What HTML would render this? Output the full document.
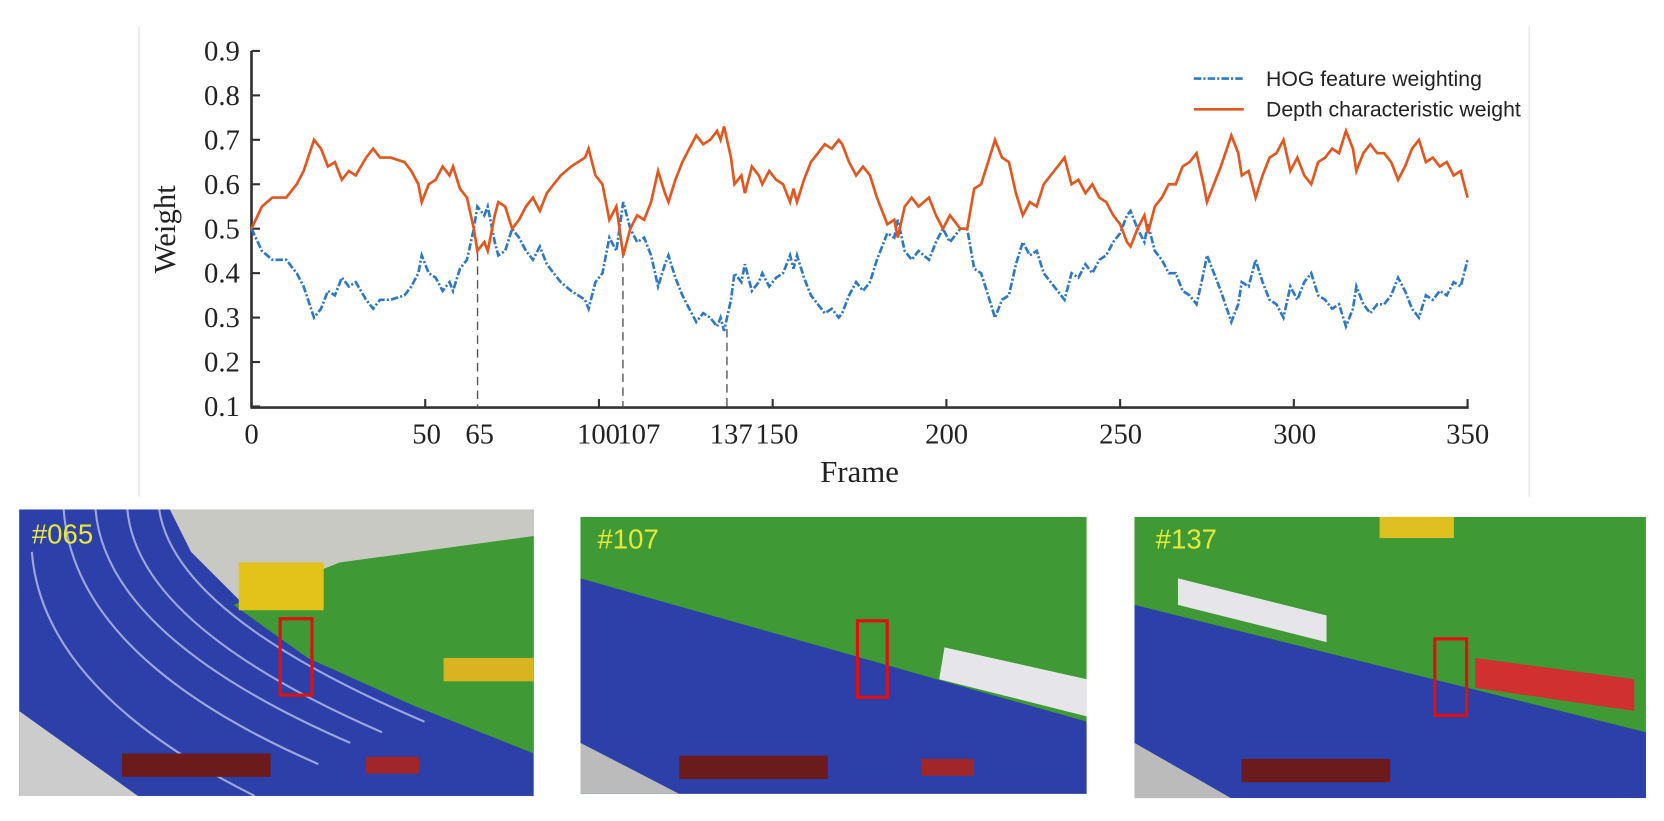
<!DOCTYPE html>
<html><head><meta charset="utf-8"><style>
body{margin:0;background:#fff;}
svg{display:block;}
text{font-family:"Liberation Serif",serif;fill:#222;}
</style></head><body>
<svg id="s" width="1664" height="821" viewBox="0 0 1568 773.6" preserveAspectRatio="none" xmlns="http://www.w3.org/2000/svg">
<line x1="131" y1="25" x2="131" y2="468" stroke="#ddd"/>
<line x1="1441" y1="25" x2="1441" y2="468" stroke="#ddd"/>
<g stroke="#333" stroke-width="2.5" fill="none">
<line x1="237" y1="48" x2="237" y2="384"/>
<line x1="236" y1="384" x2="1384" y2="384"/>
</g>
<g stroke="#333" stroke-width="2" id="ticks"></g>
<g font-size="27" text-anchor="end" id="ylab"></g>
<g font-size="27" text-anchor="middle">
<text x="237" y="418">0</text><text x="402" y="418">50</text><text x="452" y="418">65</text>
<text x="564" y="418">100</text><text x="602" y="418">107</text><text x="689" y="418">137</text>
<text x="732" y="418">150</text><text x="892" y="418">200</text><text x="1056" y="418">250</text>
<text x="1220" y="418">300</text><text x="1383" y="418">350</text>
<text x="810" y="454" font-size="29">Frame</text>
</g>
<text x="165" y="216" font-size="29" text-anchor="middle" transform="rotate(-90 165 216)">Weight</text>
<g stroke="#555" stroke-width="1.3" stroke-dasharray="8,5">
<line x1="450" y1="238" x2="450" y2="384"/><line x1="587" y1="235" x2="587" y2="384"/><line x1="685" y1="310" x2="685" y2="384"/>
</g>
<path id="blue" fill="none" stroke="#2f78c4" stroke-width="2.5" stroke-dasharray="7,2,2,2"/>
<path id="orange" fill="none" stroke="#e0571f" stroke-width="2.5"/>
<line x1="1125" y1="74" x2="1172" y2="74" stroke="#2f78c4" stroke-width="2.5" stroke-dasharray="7,2,2,2"/>
<line x1="1125" y1="103" x2="1172" y2="103" stroke="#e0571f" stroke-width="2.5"/>
<g font-size="20">
<text x="1193" y="81" style="font-family:'Liberation Sans',sans-serif">HOG feature weighting</text>
<text x="1193" y="110" style="font-family:'Liberation Sans',sans-serif">Depth characteristic weight</text>
</g>
<defs>
<clipPath id="c1"><rect x="18" y="480" width="485" height="270"/></clipPath>
<clipPath id="c2"><rect x="547" y="487" width="477" height="261"/></clipPath>
<clipPath id="c3"><rect x="1069" y="487" width="482" height="265"/></clipPath>
</defs>
<g clip-path="url(#c1)">
<rect x="18" y="480" width="485" height="270" fill="#2d3fa8"/>
<polygon points="160,480 503,480 503,560 300,590 230,570 180,520" fill="#c9c9c4"/>
<polygon points="220,570 320,530 503,505 503,710 390,665 290,620" fill="#3f9a35"/>
<g stroke="#b8c2ec" stroke-width="2" fill="none" opacity="0.8">
<path d="M60,480 Q70,620 300,720"/><path d="M90,480 Q100,600 330,700"/><path d="M120,480 Q130,590 360,690"/><path d="M150,480 Q165,580 400,680"/><path d="M30,520 Q40,650 240,750"/>
</g>
<polygon points="18,670 130,750 18,750" fill="#ccc"/>
<rect x="225" y="530" width="80" height="45" fill="#e3c21a"/>
<rect x="418" y="620" width="85" height="22" fill="#d9b320"/>
<rect x="115" y="710" width="140" height="22" fill="#6b1b1b"/>
<rect x="345" y="713" width="50" height="16" fill="#a0262a"/>
<rect x="264" y="583" width="30" height="72" fill="none" stroke="#e01010" stroke-width="3"/>
<text x="30" y="512" font-size="26" style="font-family:'Liberation Sans',sans-serif;fill:#e8e83a">#065</text>
</g>
<g clip-path="url(#c2)">
<rect x="547" y="487" width="477" height="261" fill="#3f9a35"/>
<polygon points="547,545 1024,680 1024,748 547,748" fill="#2d3fa8"/>
<polygon points="890,610 1024,640 1024,675 885,640" fill="#e6e6ea"/>
<polygon points="547,700 640,748 547,748" fill="#bbb"/>
<rect x="640" y="712" width="140" height="22" fill="#6b1b1b"/>
<rect x="868" y="715" width="50" height="16" fill="#a0262a"/>
<rect x="808" y="585" width="28" height="72" fill="none" stroke="#e01010" stroke-width="3"/>
<text x="563" y="517" font-size="26" style="font-family:'Liberation Sans',sans-serif;fill:#e8e83a">#107</text>
</g>
<g clip-path="url(#c3)">
<rect x="1069" y="487" width="482" height="265" fill="#3f9a35"/>
<polygon points="1069,570 1551,690 1551,752 1069,752" fill="#2d3fa8"/>
<polygon points="1110,545 1250,580 1250,605 1110,570" fill="#e6e6ea"/>
<polygon points="1390,620 1540,640 1540,670 1390,648" fill="#d03030"/>
<rect x="1300" y="487" width="70" height="20" fill="#e0c020"/>
<polygon points="1069,700 1160,752 1069,752" fill="#bbb"/>
<rect x="1170" y="715" width="140" height="22" fill="#6b1b1b"/>
<rect x="1352" y="602" width="30" height="72" fill="none" stroke="#e01010" stroke-width="3"/>
<text x="1089" y="517" font-size="26" style="font-family:'Liberation Sans',sans-serif;fill:#e8e83a">#137</text>
</g>
</svg>
<script>
var d=[[0,.5],[3,.55],[6,.57],[10,.57],[13,.6],[15,.63],[18,.70],[20,.68],[22,.64],[24,.65],[26,.61],[28,.63],[30,.62],[33,.66],[35,.68],[37,.66],[40,.66],[44,.65],[46,.63],[48,.6],[49,.56],[51,.6],[53,.61],[55,.64],[57,.62],[58,.64],[60,.59],[62,.57],[64,.5],[65,.45],[67,.47],[68,.45],[70,.53],[71,.56],[73,.55],[75,.5],[77,.52],[79,.55],[81,.57],[83,.54],[85,.58],[87,.6],[89,.62],[92,.64],[94,.65],[96,.66],[97,.68],[99,.62],[101,.6],[103,.52],[105,.55],[107,.44],[109,.5],[111,.53],[113,.52],[115,.56],[117,.63],[119,.58],[120,.56],[122,.61],[124,.65],[126,.68],[128,.71],[130,.69],[132,.7],[134,.72],[135,.7],[136,.73],[138,.66],[139,.6],[141,.62],[142,.58],[144,.64],[146,.62],[147,.6],[149,.63],[151,.61],[153,.6],[155,.56],[156,.59],[157,.56],[159,.61],[161,.65],[163,.67],[165,.69],[167,.68],[169,.7],[170,.69],[172,.65],[174,.62],[176,.64],[178,.62],[180,.57],[182,.53],[183,.51],[185,.52],[186,.48],[188,.55],[190,.57],[192,.55],[195,.57],[197,.53],[199,.5],[201,.53],[204,.5],[206,.5],[208,.59],[210,.6],[212,.65],[214,.7],[216,.66],[218,.65],[220,.58],[222,.53],[224,.56],[226,.55],[228,.6],[230,.62],[232,.64],[234,.66],[236,.6],[238,.61],[240,.58],[242,.6],[244,.57],[246,.56],[248,.53],[250,.51],[252,.47],[253,.46],[255,.5],[257,.53],[258,.49],[260,.55],[262,.57],[264,.6],[266,.6],[268,.64],[270,.65],[272,.67],[274,.6],[275,.56],[277,.6],[279,.64],[282,.71],[284,.67],[285,.62],[287,.63],[289,.57],[291,.62],[293,.66],[295,.67],[297,.70],[299,.63],[301,.66],[303,.62],[305,.6],[307,.65],[309,.66],[311,.68],[313,.67],[315,.72],[317,.68],[318,.63],[320,.67],[322,.69],[324,.67],[326,.67],[328,.65],[330,.61],[332,.64],[334,.68],[336,.70],[338,.65],[340,.66],[342,.64],[344,.65],[346,.62],[348,.63],[350,.57]];
function X(f){return 237+3.274*f;} function Y(v){return 383-(v-0.1)*418.75;}
var o="",b="";d.forEach(function(p,i){o+=(i?"L":"M")+X(p[0]).toFixed(1)+","+Y(p[1]).toFixed(1);b+=(i?"L":"M")+X(p[0]).toFixed(1)+","+Y(1-p[1]).toFixed(1);});
document.getElementById("orange").setAttribute("d",o);document.getElementById("blue").setAttribute("d",b);
var ns="http://www.w3.org/2000/svg",t=document.getElementById("ticks"),yl=document.getElementById("ylab");
for(var i=1;i<=9;i++){var y=Y(i/10);var l=document.createElementNS(ns,"line");l.setAttribute("x1",237);l.setAttribute("x2",245);l.setAttribute("y1",y);l.setAttribute("y2",y);t.appendChild(l);
var tx=document.createElementNS(ns,"text");tx.setAttribute("x",226);tx.setAttribute("y",y+9);tx.textContent="0."+i;yl.appendChild(tx);}
[50,100,150,200,250,300,350].forEach(function(f){var l=document.createElementNS(ns,"line");l.setAttribute("x1",X(f));l.setAttribute("x2",X(f));l.setAttribute("y1",384);l.setAttribute("y2",376);t.appendChild(l);});
</script>
</body></html>
